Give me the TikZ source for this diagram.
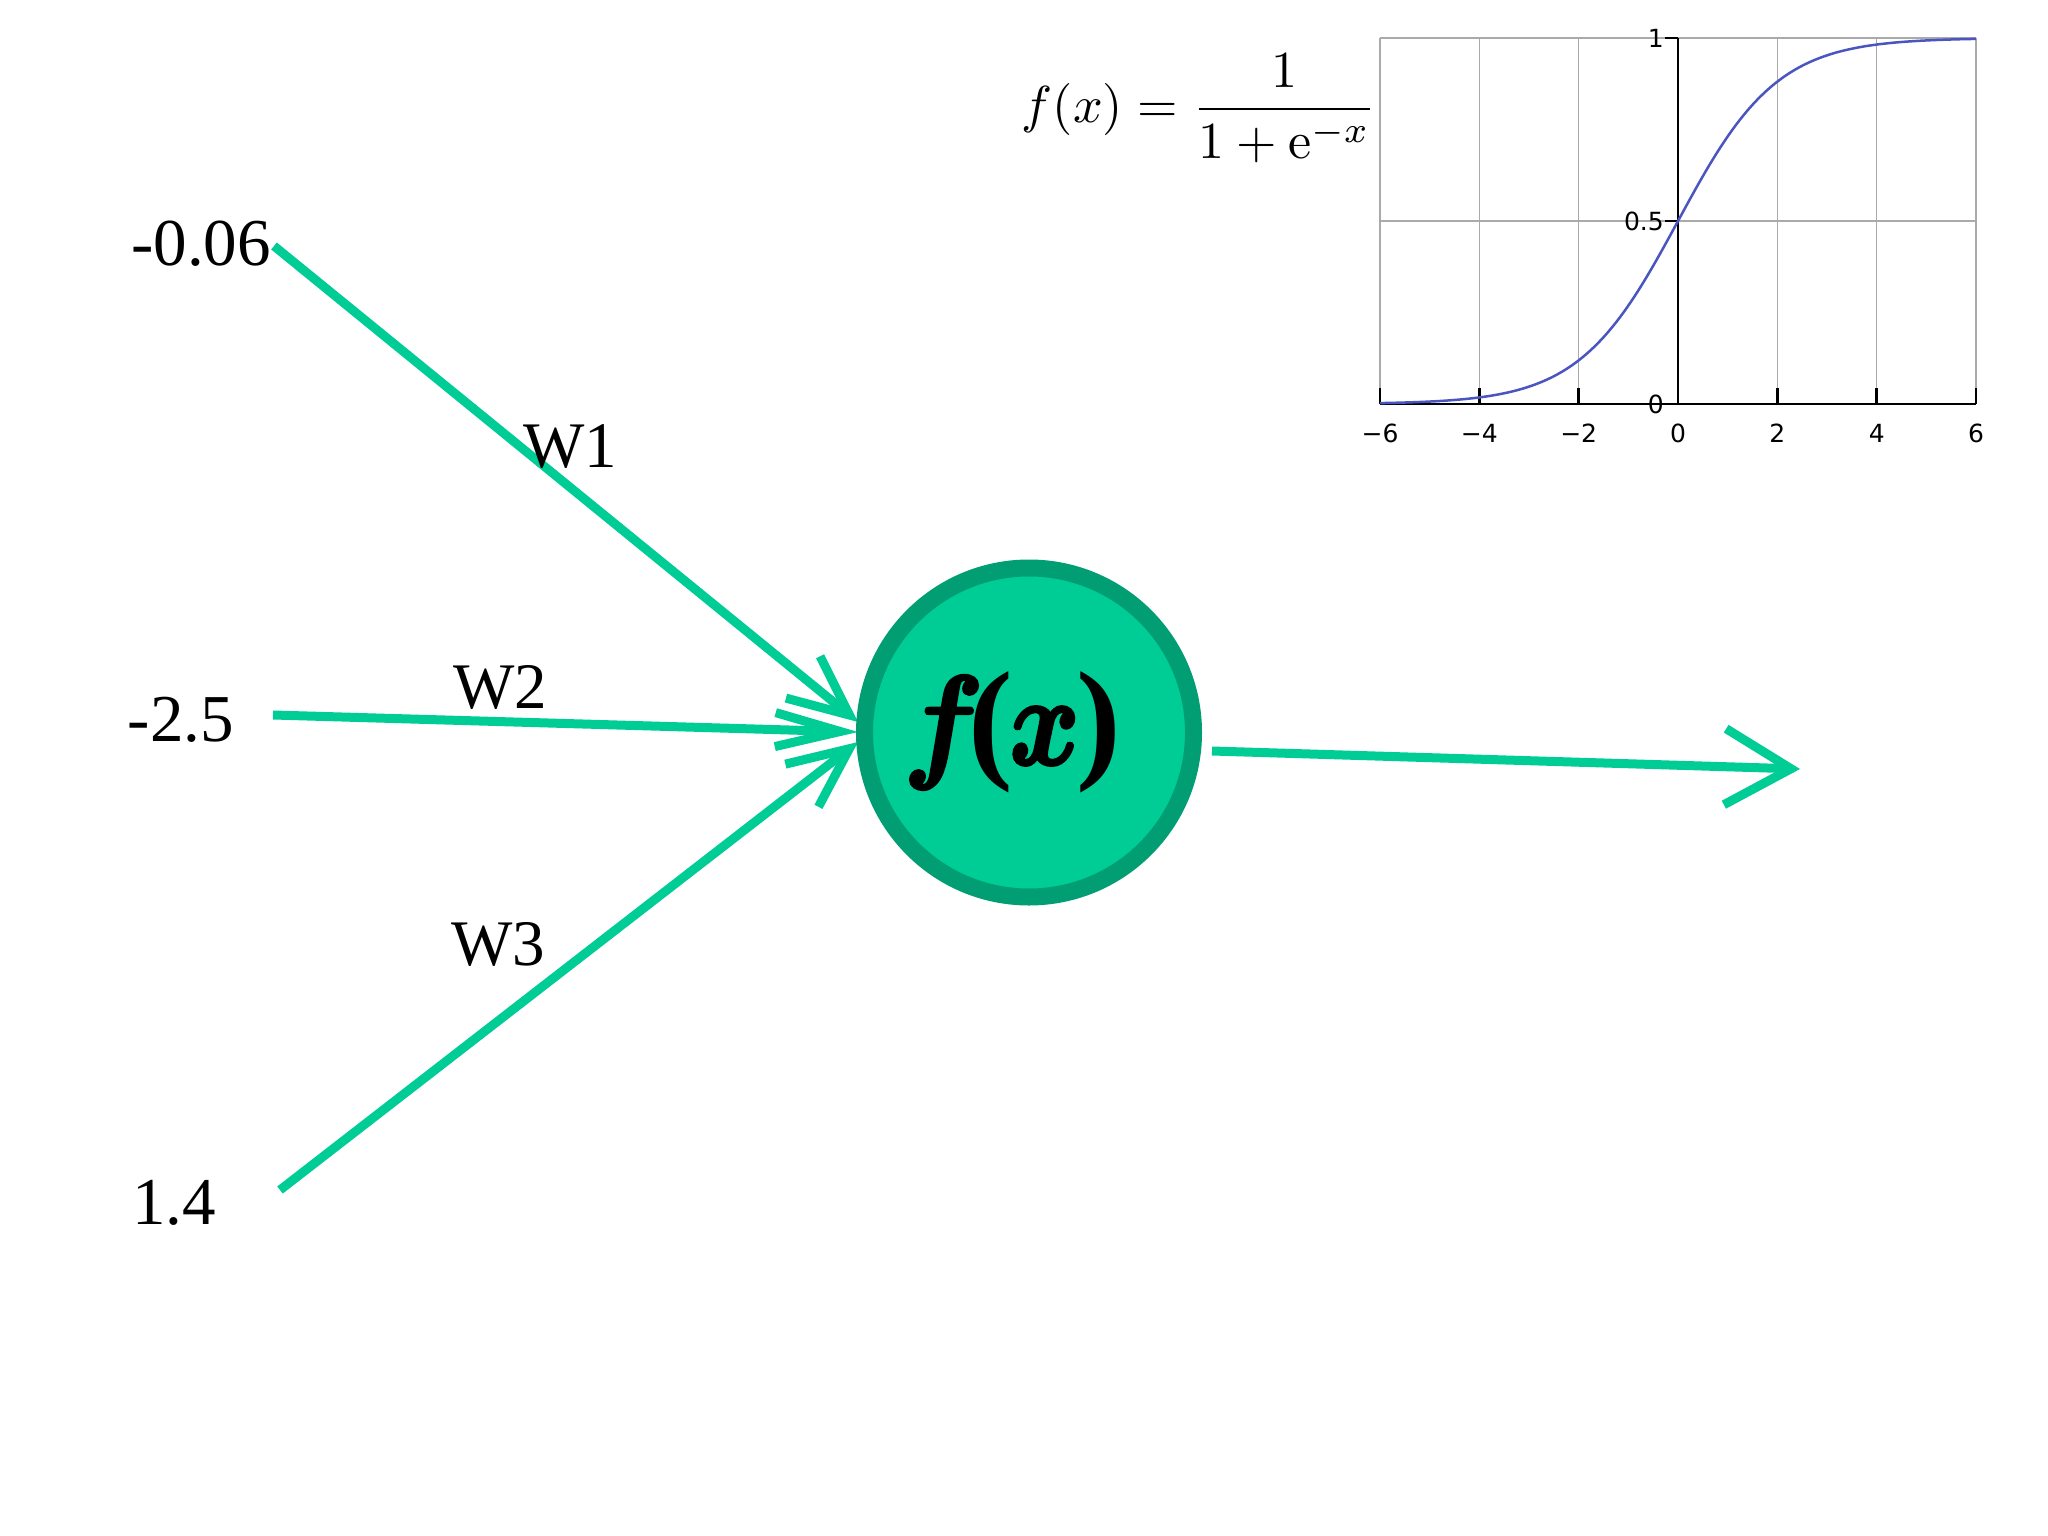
\documentclass[tikz,border=0pt]{standalone}
\usepackage[no-math]{fontspec}
\setmainfont{Liberation Serif}
\newfontfamily\plotfont{DejaVu Sans}
\usetikzlibrary{arrows.meta}
\definecolor{edgegreen}{HTML}{00CC96}
\definecolor{ringgreen}{HTML}{009E72}
\definecolor{curveblue}{HTML}{4A55C0}
\definecolor{gridgrey}{HTML}{AAAAAA}
\tikzset{
  biglabel/.style={font=\fontsize{67}{70}\selectfont,inner sep=0pt},
  weightlabel/.style={font=\fontsize{65}{68}\selectfont,inner sep=0pt},
  neuron/.style={circle,draw=ringgreen,fill=edgegreen,line width=17pt,minimum size=329pt,inner sep=0pt},
  inedge/.style={draw=edgegreen,line width=9pt,-{Straight Barb[length=60pt,width=54pt]}},
  midedge/.style={draw=edgegreen,line width=9pt,-{Straight Barb[length=65pt,width=34pt]}},
  outedge/.style={draw=edgegreen,line width=9pt,-{Straight Barb[length=66pt,width=76pt]}},
  gridline/.style={draw=gridgrey,line width=1.5pt},
  axisline/.style={draw=black,line width=2.5pt},
  ticklabel/.style={font=\plotfont\fontsize{25}{27}\selectfont,inner sep=0pt},
}
\newcommand{\bigf}{\scalebox{12}[12.7]{\fontsize{10}{12}\selectfont\mathversion{bold}\special{pdf:code 2 Tr 0.2 w}$f$\special{pdf:code 0 Tr 0.4 w}}}
\newcommand{\bigx}{\scalebox{10.6}[12.7]{\fontsize{10}{12}\selectfont\mathversion{bold}\special{pdf:code 2 Tr 0.28 w}$x$\special{pdf:code 0 Tr 0.4 w}}}
\begin{document}
\begin{tikzpicture}[x=1pt,y=-1pt]
\useasboundingbox[fill=white] (0,0) rectangle (2048,1536);
% neuron
\coordinate (s1) at (274,246);
\coordinate (s2) at (273,715);
\coordinate (s3) at (280,1190);
\coordinate (t1) at (858,722);
\coordinate (t2) at (858,732);
\coordinate (t3) at (858,742);
\coordinate (o1) at (1212,751);
\coordinate (o2) at (1800,769);
\draw[inedge] (s1) -- (t1);
\draw[midedge] (s2) -- (t2);
\draw[inedge] (s3) -- (t3);
\draw[outedge] (o1) -- (o2);
\node[neuron] (fx) at (1029,732.5) {};
\node[inner sep=0pt,font=\fontsize{134}{140}\selectfont\bfseries] (fxt) at (1012,732) {\bigf\kern-16pt(\kern-3pt\bigx\kern-3pt)};
% labels
\node[biglabel] (in1) at (201,244) {-0.06};
\node[biglabel] (in2) at (181,720) {-2.5};
\node[biglabel] (in3) at (174,1203) {1.4};
\node[weightlabel] (w1) at (570,447) {W1};
\node[weightlabel] (w2) at (500,687) {W2};
\node[weightlabel] (w3) at (498,944) {W3};
% formula
\node[inner sep=0pt] (formula) at (1199,108) {\scalebox{5.2}{$\displaystyle f(x)=\frac{1}{1+\mathrm{e}^{-x}}$}};
% plot
\foreach \t in {-6,-4,-2,2,4,6}{
  \draw[gridline] ({1678+49.67*\t},38) -- ({1678+49.67*\t},404);
  \draw[axisline] ({1678+49.67*\t},404) -- ({1678+49.67*\t},388);
}
\draw[gridline] (1380,38) -- (1976,38);
\draw[gridline] (1380,221) -- (1976,221);
\draw[axisline] (1380,404) -- (1976,404);
\draw[axisline] (1678,38) -- (1678,404);
\draw[axisline] (1665,38) -- (1678,38);
\draw[axisline] (1665,221) -- (1678,221);
\draw[axisline] (1665,404) -- (1678,404);
\draw[curveblue,line width=2.5pt,smooth] plot[domain=-6:6,samples=121] ({1678+49.67*\x},{404-366/(1+exp(-\x))});
\foreach \t/\l in {-6/−6,-4/−4,-2/−2,0/0,2/2,4/4,6/6}{
  \node[ticklabel] at ({1678+49.67*\t},433) {\l};
}
\node[ticklabel,anchor=east] (y1) at (1664,38) {1};
\node[ticklabel,anchor=east] (y5) at (1664,221) {0.5};
\node[ticklabel,anchor=east] (y0) at (1664,404) {0};
\end{tikzpicture}
\end{document}
